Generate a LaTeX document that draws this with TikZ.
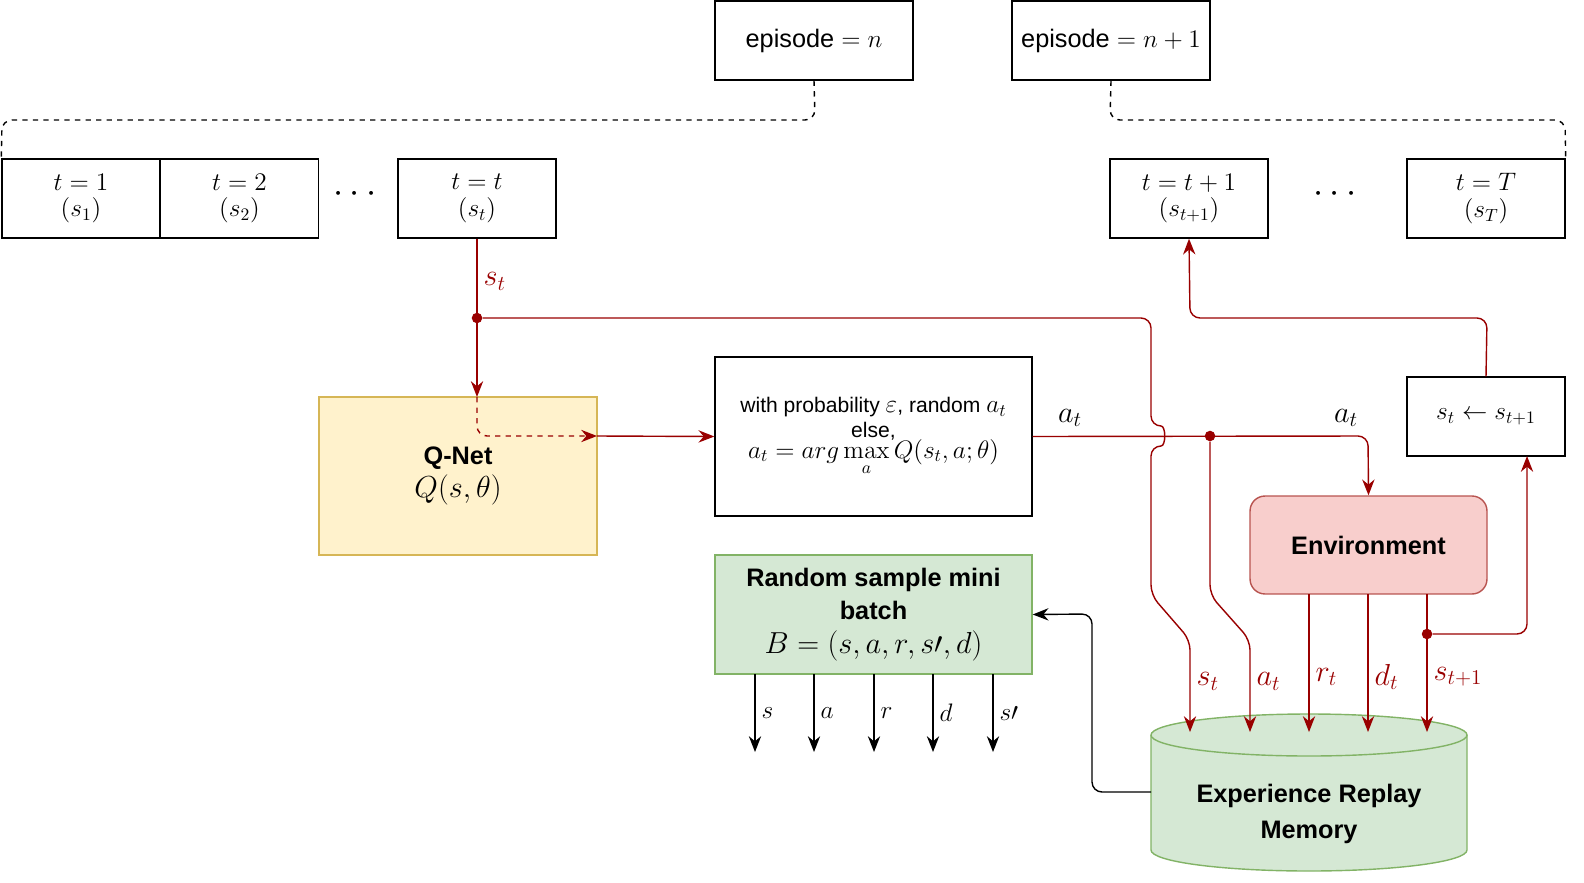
\documentclass[tikz,border=0pt]{standalone}
\usepackage{amsmath,amssymb}
\usepackage[no-math]{fontspec}
\setmainfont{Liberation Sans}
\usepackage{xcolor}
\usetikzlibrary{arrows.meta,positioning}
\definecolor{dred}{HTML}{990000}
\definecolor{qfill}{HTML}{FFF2CC}
\definecolor{qdraw}{HTML}{D6B656}
\definecolor{gfill}{HTML}{D5E8D4}
\definecolor{gdraw}{HTML}{82B366}
\definecolor{efill}{HTML}{F8CECC}
\definecolor{edraw}{HTML}{B85450}
\begin{document}
\begin{tikzpicture}[
    x=0.02cm, y=-0.02cm,
    box/.style={rectangle, draw, thick, inner sep=1pt, align=center, font=\Large},
    tbox/.style={box, minimum width=3.16cm, minimum height=1.58cm, font=\Large\linespread{0.85}\selectfont},
    redarrow/.style={-{Stealth[length=9pt,width=7pt]}, dred, thick, rounded corners=0.2cm},
    blackarrow/.style={-{Stealth[length=9pt,width=7pt]}, thick, rounded corners=0.2cm},
    dot/.style={circle, fill=dred, inner sep=0pt, minimum size=6pt},
    lbl/.style={font=\LARGE}
]
    \useasboundingbox (0,0) rectangle (1584,882);
    % episodes
    \node[box, minimum width=3.96cm, minimum height=1.58cm] (epn) at (814,40.5) {episode $= n$};
    \node[box, minimum width=3.96cm, minimum height=1.58cm] (epm) at (1111,40.5) {episode $= n+1$};
    % time steps
    \node[tbox] (t1) at (81,198.5) {$t=1$\\$(s_1)$};
    \node[tbox] (t2) at (239.5,198.5) {$t=2$\\$(s_2)$};
    \node[font=\huge] (dotsl) at (358,194) {$\cdots$};
    \node[tbox] (tt) at (477,198.5) {$t=t$\\$(s_t)$};
    \node[tbox] (tn) at (1189,198.5) {$t=t+1$\\$(s_{t+1})$};
    \node[font=\huge] (dotsr) at (1338,194) {$\cdots$};
    \node[tbox] (tT) at (1486,198.5) {$t=T$\\$(s_T)$};
    % braces
    \draw[dashed, thick, rounded corners=0.2cm] (epn.south) -- (815,120) -- (2,120) -- (t1.north west);
    \draw[dashed, thick, rounded corners=0.2cm] (epm.south) -- (1110,120) -- (1565,120) -- (tT.north east);
    % main blocks
    \node[box, fill=qfill, draw=qdraw, minimum width=5.56cm, minimum height=3.16cm] (qnet) at (458,476)
        {\textbf{\Large Q-Net}\\[1pt]{\LARGE $Q(s,\theta)$}};
    \node[box, minimum width=6.34cm, minimum height=3.18cm, font=\large] (policy) at (873.5,436.5)
        {with probability {\Large$\varepsilon$}, random {\Large$a_t$}\\else,\\[-2pt]{\Large$a_t = arg\max\limits_{a} Q(s_t,a;\theta)$}};
    \node[box, fill=gfill, draw=gdraw, minimum width=6.34cm, minimum height=2.38cm] (batch) at (873.5,614.5)
        {\textbf{\Large Random sample mini}\\[1pt]\textbf{\Large batch}\\[1pt]{\LARGE $B=(s,a,r,s\prime,d)$}};
    \node[box, fill=efill, draw=edraw, rounded corners=0.3cm, minimum width=4.74cm, minimum height=1.96cm] (env) at (1368.5,545)
        {\textbf{\Large Environment}};
    \node[box, minimum width=3.16cm, minimum height=1.58cm, font=\Large] (upd) at (1486,416.5) {$s_t \leftarrow s_{t+1}$};
    % replay memory cylinder
    \draw[thick, draw=gdraw, fill=gfill] (1151,735) -- (1151,850) arc[start angle=180, end angle=360, x radius=158, y radius=-21] -- (1467,735);
    \draw[thick, draw=gdraw, fill=gfill] (1309,735) ellipse[x radius=158, y radius=21];
    \node[font=\Large\bfseries, align=center, minimum width=6.32cm, minimum height=2.4cm] (mem) at (1309,814) {Experience Replay\\[2pt]Memory};
    % state into Q-Net
    \coordinate (qin) at (477,397);
    \coordinate (qout) at (597,436);
    \draw[redarrow] (tt.south) -- (qin) node[pos=0.27, right, lbl] {$s_t$};
    \node[dot] (d1) at (477,318) {};
    \draw[redarrow, dashed] (qin) -- (477,436) -- (qout);
    \draw[redarrow] (qout) -- (policy.west);
    % state to memory with hop
    \coordinate (m1) at (1190,732);
    \draw[redarrow] (d1) -- (1151,318) -- (1151,426) .. controls (1166,426) and (1166,446) .. (1151,446)
        -- (1151,595) -- (1190,640) -- (m1) node[pos=0.45, right, lbl] {$s_t$};
    % action
    \draw[redarrow] (policy.east) -- (1368,436) -- (env.north);
    \node[lbl] (la1) at (1070,418) {$a_t$};
    \node[lbl] (la2) at (1346,418) {$a_t$};
    \node[dot] (d2) at (1210,436) {};
    \coordinate (m2) at (1250,732);
    \draw[redarrow] (d2) -- (1210,595) -- (1250,640) -- (m2) node[pos=0.45, right, lbl] {$a_t$};
    % environment outputs
    \coordinate (m3) at (1309,732);
    \coordinate (m4) at (1368,732);
    \coordinate (m5) at (1427,732);
    \draw[redarrow] (1309,594) -- (m3) node[pos=0.6, right, lbl] {$r_t$};
    \draw[redarrow] (1368,594) -- (m4) node[pos=0.6, right, lbl] {$d_t$};
    \draw[redarrow] (1427,594) -- (m5) node[pos=0.6, right, lbl] {$s_{t+1}$};
    \node[dot] (d3) at (1427,634) {};
    \draw[redarrow] (d3) -- (1527,634) -- (1527,456);
    % next state
    \draw[redarrow] (upd.north) -- (1487,318) -- (1190,318) -- (tn.south);
    % memory to batch
    \draw[blackarrow] (1151,792) -- (1092,792) -- (1092,614) -- (batch.east);
    % batch outputs
    \foreach \x/\l in {755/s, 814/a, 874/r, 933/d, 993/s\prime} {
        \draw[-{Stealth[length=9pt,width=7pt]}, thick] (\x,674) -- (\x,752) node[pos=0.5, right, font=\Large] {$\l$};
    }
\end{tikzpicture}
\end{document}
